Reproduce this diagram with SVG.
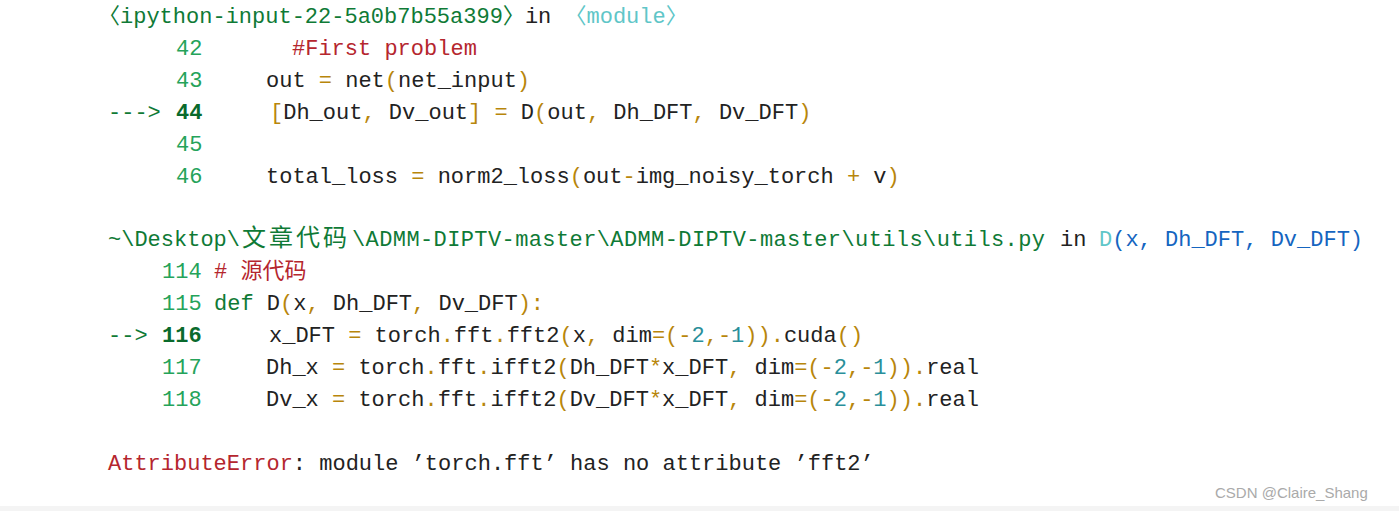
<svg xmlns="http://www.w3.org/2000/svg" width="1399" height="511" viewBox="0 0 1399 511">
<style>
text{font-family:"Liberation Mono","Noto Sans CJK SC",monospace;font-size:22px;fill:#222}
.g{fill:#0f7a36}.ln{fill:#25a35a}.b{fill:#0a6a2c;font-weight:bold}.c{fill:#5fc6c8}
.r{fill:#b5262e}.o{fill:#b8860b}.t{fill:#2a8f9a}.bl{fill:#1565c0}
</style>
<rect width="1399" height="511" fill="#fff"/>
<rect y="506" width="1399" height="5" fill="#f4f4f4"/>
<g xml:space="preserve">
<text x="98" y="23"><tspan class="g">〈ipython-input-22-5a0b7b55a399〉</tspan>in <tspan class="c">〈module〉</tspan></text>
<text x="176" y="55" class="ln">42</text><text x="292" y="55" class="r">#First problem</text>
<text x="176" y="87" class="ln">43</text><text x="266" y="87">out <tspan class="o">=</tspan> net<tspan class="o">(</tspan>net_input<tspan class="o">)</tspan></text>
<text x="108" y="119" class="g">---&gt;</text><text x="176" y="119" class="b">44</text><text x="270" y="119"><tspan class="o">[</tspan>Dh_out<tspan class="o">,</tspan> Dv_out<tspan class="o">]</tspan> <tspan class="o">=</tspan> D<tspan class="o">(</tspan>out<tspan class="o">,</tspan> Dh_DFT<tspan class="o">,</tspan> Dv_DFT<tspan class="o">)</tspan></text>
<text x="176" y="151" class="ln">45</text>
<text x="176" y="183" class="ln">46</text><text x="266" y="183">total_loss <tspan class="o">=</tspan> norm2_loss<tspan class="o">(</tspan>out<tspan class="o">-</tspan>img_noisy_torch <tspan class="o">+</tspan> v<tspan class="o">)</tspan></text>
<text x="108" y="246" class="g" textLength="132">~\Desktop\</text>
<text x="242" y="246" class="g" style="font-size:24px;letter-spacing:3px">文章代码</text>
<text x="352" y="246" class="g" textLength="693">\ADMM-DIPTV-master\ADMM-DIPTV-master\utils\utils.py</text>
<text x="1060" y="246">in</text><text x="1099" y="246"><tspan class="c">D</tspan><tspan class="bl">(x, Dh_DFT, Dv_DFT)</tspan></text>
<text x="162" y="278" class="ln">114</text><text x="214" y="278" class="r"># 源代码</text>
<text x="162" y="310" class="ln">115</text><text x="214" y="310"><tspan class="g">def</tspan> D<tspan class="o">(</tspan>x<tspan class="o">,</tspan> Dh_DFT<tspan class="o">,</tspan> Dv_DFT<tspan class="o">):</tspan></text>
<text x="108" y="342" class="g">--&gt;</text><text x="162" y="342" class="b">116</text><text x="269" y="342">x_DFT <tspan class="o">=</tspan> torch<tspan class="o">.</tspan>fft<tspan class="o">.</tspan>fft2<tspan class="o">(</tspan>x<tspan class="o">,</tspan> dim<tspan class="o">=(-</tspan><tspan class="t">2</tspan><tspan class="o">,-</tspan><tspan class="t">1</tspan><tspan class="o">)).</tspan>cuda<tspan class="o">()</tspan></text>
<text x="162" y="374" class="ln">117</text><text x="266" y="374">Dh_x <tspan class="o">=</tspan> torch<tspan class="o">.</tspan>fft<tspan class="o">.</tspan>ifft2<tspan class="o">(</tspan>Dh_DFT<tspan class="o">*</tspan>x_DFT<tspan class="o">,</tspan> dim<tspan class="o">=(-</tspan><tspan class="t">2</tspan><tspan class="o">,-</tspan><tspan class="t">1</tspan><tspan class="o">)).</tspan>real</text>
<text x="162" y="406" class="ln">118</text><text x="266" y="406">Dv_x <tspan class="o">=</tspan> torch<tspan class="o">.</tspan>fft<tspan class="o">.</tspan>ifft2<tspan class="o">(</tspan>Dv_DFT<tspan class="o">*</tspan>x_DFT<tspan class="o">,</tspan> dim<tspan class="o">=(-</tspan><tspan class="t">2</tspan><tspan class="o">,-</tspan><tspan class="t">1</tspan><tspan class="o">)).</tspan>real</text>
<text x="108" y="470"><tspan class="r">AttributeError</tspan>: module ’torch.fft’ has no attribute ’fft2’</text>
<text x="1215" y="498" style="font-family:'Liberation Sans',sans-serif;font-size:15px;fill:#aaa">CSDN @Claire_Shang</text>
</g>
</svg>
